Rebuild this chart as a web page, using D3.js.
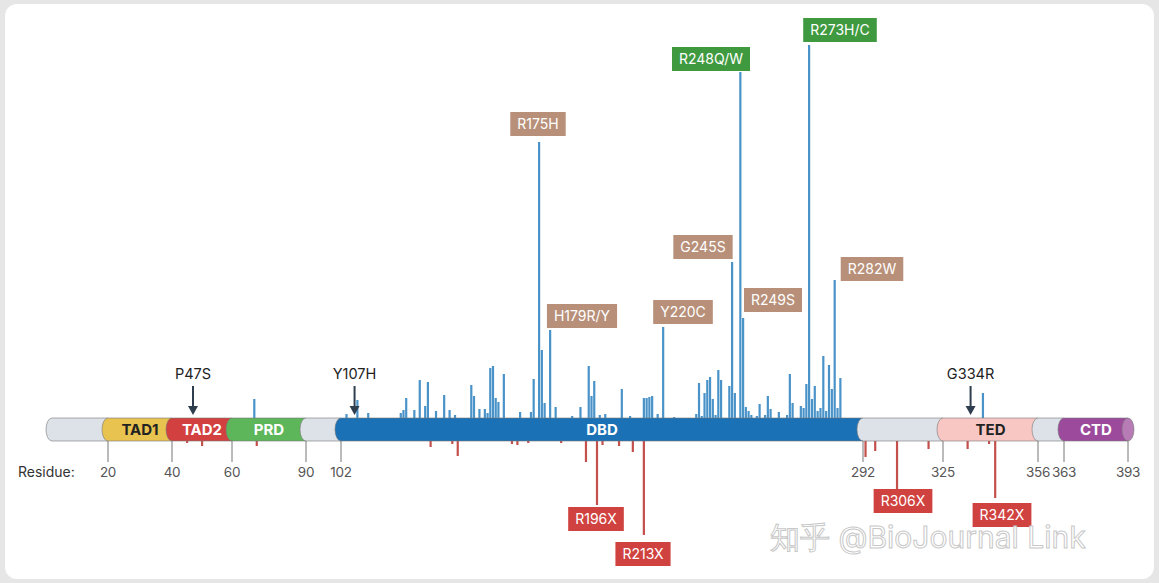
<!DOCTYPE html>
<html><head><meta charset="utf-8">
<script src="https://cdn.jsdelivr.net/npm/d3@7"></script>
<style>body{margin:0;background:#e6e6e6}svg{display:block}text{font-family:Inter,"Open Sans",sans-serif}</style>
</head><body><svg id="c" width="1159" height="583"></svg>
<script>
// Residue breakpoints of the schematic (non-uniform) axis
const axisResidues = [1,20,40,60,90,102,175,245,273,292,325,356,363,393];
const tickResidues = [20,40,60,90,102,292,325,356,363,393];
// Domains
const domainNames = ["","TAD1","TAD2","PRD","","DBD","","TED","","CTD"];
const domainStart = [1,20,40,60,90,102,292,325,356,363];
const domainEnd   = [20,40,60,90,102,292,325,356,363,393];
const domainColors = ["#dce2e8","#e9c34f","#d2403f","#5db75a","#dce2e8","#1b71b5","#dce2e8","#f8c7c4","#dce2e8","#9c4b9c"];
const domainTextColors = ["#222","#222","#fff","#fff","#222","#fff","#222","#222","#222","#fff"];
// Missense mutation frequencies (above) — residue, relative frequency
const missenseResidue = [69,104,108,112,124,125,126,129,131,133,134,137,140,142,144,150,151,153,155,156,157,158,159,160,162,168,172,173,175,176,177,179,181,187,190,193,194,195,197,199,205,208,213,214,215,216,218,220,224,232,233,234,235,236,237,238,239,240,241,244,245,246,248,249,250,251,252,254,255,257,258,259,262,265,266,267,270,271,272,273,274,275,276,277,278,279,280,281,282,283,284,338];
const missenseValue   = [19,4,18,5,5,8,20,8,38,12,36,7,23,8,3,33,22,9,9,5,50,52,20,16,44,6,6,39,276,68,15,88,11,2,11,52,22,37,3,4,29,2,20,20,21,22,4,91,1,4,35,2,25,38,41,19,3,48,38,32,156,25,346,100,11,7,3,2,14,3,22,9,6,3,44,15,12,10,34,373,19,32,7,10,62,7,53,29,138,10,40,25];
// Truncating mutation frequencies (below)
const truncResidue = [45,50,70,135,143,145,165,167,171,183,192,196,198,204,209,213,293,297,306,319,333,340,342];
const truncValue   = [2,5,5,6,3,15,3,4,2,2,21,64,4,5,11,94,16,10,49,8,8,3,57];
// Hotspot labels
const hotLabels = ["R175H","H179R/Y","Y220C","G245S","R248Q/W","R249S","R273H/C","R282W"];
const hotType = ["brown","brown","brown","brown","green","brown","green","brown"];
const truncLabels = ["R196X","R213X","R306X","R342X"];
const arrowLabels = ["P47S","Y107H","G334R"];
const arrowResidue = [47,107,334];

const svg = d3.select("#c");
svg.append("rect").attr("x",5).attr("y",4).attr("width",1149).attr("height",575).attr("rx",12).attr("fill","#fff");

const x = d3.scaleLinear().domain(axisResidues)
  .range([52,108,172,232,306,341,539,732,809,863,943,1038,1064,1128]);
const bandTop = 418, bandBot = 441, ry = 11.5, rx = 6;
const yUp = d3.scaleLinear().domain([0,373]).range([bandTop, bandTop-373]);
const yDn = d3.scaleLinear().domain([0,94]).range([bandBot, bandBot+94]);

svg.append("g").selectAll("rect").data(missenseResidue).join("rect")
  .attr("x",(d)=>x(d)-1).attr("width",2.2)
  .attr("y",(d,i)=>yUp(missenseValue[i])).attr("height",(d,i)=>bandTop-yUp(missenseValue[i]))
  .attr("fill","#4a93c9");
svg.append("g").selectAll("rect").data(truncResidue).join("rect")
  .attr("x",(d)=>x(d)-1).attr("width",2.2)
  .attr("y",bandBot).attr("height",(d,i)=>yDn(truncValue[i])-bandBot)
  .attr("fill","#c4504c");

const cy = (bandTop+bandBot)/2;
const dg = svg.append("g");
domainStart.forEach((s,i)=>{
  const x0=x(s), x1=x(domainEnd[i]);
  dg.append("path")
    .attr("d",`M${x0},${bandTop} L${x1},${bandTop} L${x1},${bandBot} L${x0},${bandBot} A${rx},${ry} 0 0 1 ${x0},${bandTop} Z`)
    .attr("fill",domainColors[i]).attr("stroke","#777").attr("stroke-width",0.6);
});
domainStart.forEach((s,i)=>{
  const x0=x(s), x1=x(domainEnd[i]);
  if(domainNames[i]) dg.append("text").attr("x",(x0+x1)/2).attr("y",cy+5.5).attr("text-anchor","middle")
    .attr("font-size",15).attr("font-weight",700).attr("fill",domainTextColors[i]).text(domainNames[i]);
});
dg.append("ellipse").attr("cx",x(393)).attr("cy",cy).attr("rx",rx).attr("ry",ry)
  .attr("fill","#b77cb6").attr("stroke","#777").attr("stroke-width",0.6);

const tg = svg.append("g");
tickResidues.forEach(t=>{
  tg.append("line").attr("x1",x(t)).attr("x2",x(t)).attr("y1",bandBot).attr("y2",462).attr("stroke","#777");
  tg.append("text").attr("x",x(t)).attr("y",477).attr("text-anchor","middle").attr("font-size",13.5).attr("letter-spacing",-0.3).attr("fill","#555").text(t);
});
tg.append("text").attr("x",18).attr("y",477).attr("font-size",14).attr("fill","#333").text("Residue:");

const colorMap = {brown:"#b89079", green:"#3f9a3f", red:"#d0423f"};
function box(label, cxp, ymid, fill){
  const g = svg.append("g");
  const r = g.append("rect");
  const t = g.append("text").attr("x",cxp).attr("y",ymid+5).attr("text-anchor","middle")
    .attr("font-size",14).attr("fill","#fff").text(label);
  const w = t.node().getComputedTextLength()+14;
  r.attr("x",cxp-w/2).attr("y",ymid-12).attr("width",w).attr("height",24).attr("fill",fill);
}
const hotCenter = [538,582,683,703,711,773,840,872];
const hotMid = [124,316,312,247,59,300,30,269];
hotLabels.forEach((l,i)=>box(l,hotCenter[i],hotMid[i],colorMap[hotType[i]]));
const tCenter=[596,643,903,1002], tMid=[519,554,501,515];
truncLabels.forEach((l,i)=>box(l,tCenter[i],tMid[i],colorMap.red));

arrowLabels.forEach((l,i)=>{
  const ax=x(arrowResidue[i]);
  svg.append("text").attr("x",ax).attr("y",379).attr("text-anchor","middle").attr("font-size",14.5).attr("fill","#222").text(l);
  svg.append("line").attr("x1",ax).attr("x2",ax).attr("y1",386).attr("y2",410).attr("stroke","#2f3e4e").attr("stroke-width",2);
  svg.append("path").attr("d",`M${ax-5},${406} L${ax+5},${406} L${ax},${415} Z`).attr("fill","#2f3e4e");
});

svg.append("text").attr("x",770).attr("y",548).attr("font-size",30).attr("fill","#ffffff").attr("stroke","#c8c8c8").attr("stroke-width",1)
  .attr("font-family","'Noto Sans CJK SC',sans-serif").text("知乎 @BioJournal Link");
</script></body></html>
